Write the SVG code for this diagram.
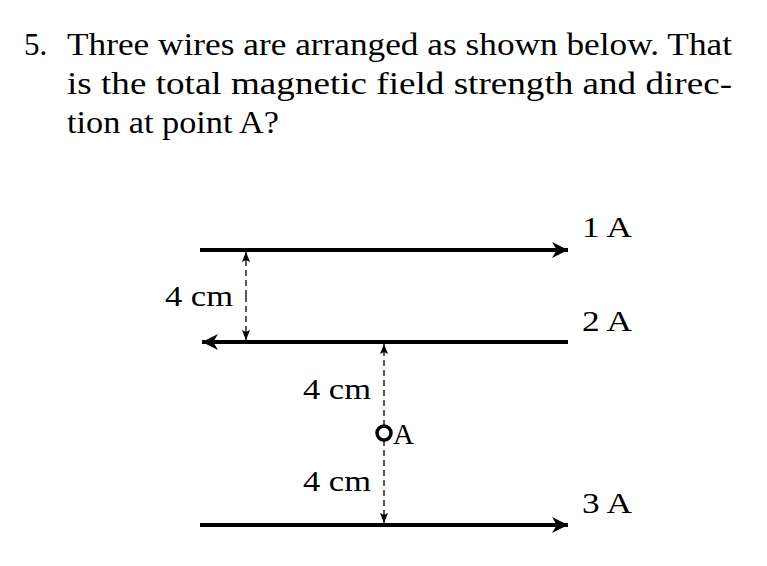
<svg xmlns="http://www.w3.org/2000/svg" width="767" height="566" viewBox="0 0 767 566">
<style>
text{font-family:"Liberation Serif","DejaVu Serif",serif;fill:#000}
.t{font-size:31px}
.l{font-size:29px}
.w{stroke:#000;stroke-width:4;fill:none}
.d{stroke:#000;stroke-width:1.3;stroke-dasharray:6,4;fill:none}
</style>
<defs>
<marker id="big" viewBox="0 0 10 10" refX="10" refY="5" markerWidth="6" markerHeight="4" markerUnits="strokeWidth" orient="auto"><path d="M0,0 L10,5 L0,10 L3,5 Z" fill="#000"/></marker>
<marker id="sm" viewBox="0 0 10 10" refX="10" refY="5" markerWidth="10" markerHeight="8" orient="auto" markerUnits="userSpaceOnUse" preserveAspectRatio="none"><path d="M0,0 L10,5 L0,10 L2,5 Z" fill="#000"/></marker>
</defs>
<g id="title">
<text class="t" x="24" y="55">5.</text>
<text class="t" x="67" y="55" textLength="665" lengthAdjust="spacingAndGlyphs">Three wires are arranged as shown below. That</text>
<text class="t" x="67" y="94" textLength="665" lengthAdjust="spacingAndGlyphs">is the total magnetic field strength and direc-</text>
<text class="t" x="67" y="133" textLength="212" lengthAdjust="spacingAndGlyphs">tion at point A?</text>
</g>
<g id="connectors">
<line class="w" x1="200" y1="250" x2="568" y2="250" marker-end="url(#big)"/>
<line class="w" x1="568" y1="342" x2="202" y2="342" marker-end="url(#big)"/>
<line class="w" x1="200" y1="525" x2="568" y2="525" marker-end="url(#big)"/>
<line class="d" x1="246" y1="296" x2="246" y2="252" marker-end="url(#sm)"/>
<line class="d" x1="246" y1="296" x2="246" y2="340" marker-end="url(#sm)"/>
<line class="d" x1="384" y1="426" x2="384" y2="344" marker-end="url(#sm)"/>
<line class="d" x1="384" y1="440" x2="384" y2="523" marker-end="url(#sm)"/>
</g>
<g id="point-A">
<circle cx="384" cy="433" r="7" fill="#fff" stroke="#000" stroke-width="3.5"/>
<text class="l" x="393" y="444">A</text>
</g>
<g id="labels">
<text class="l" x="165" y="306" textLength="68" lengthAdjust="spacingAndGlyphs">4 cm</text>
<text class="l" x="303" y="399" textLength="68" lengthAdjust="spacingAndGlyphs">4 cm</text>
<text class="l" x="303" y="491" textLength="68" lengthAdjust="spacingAndGlyphs">4 cm</text>
<text class="l" x="582" y="237" textLength="50" lengthAdjust="spacingAndGlyphs">1 A</text>
<text class="l" x="582" y="331" textLength="50" lengthAdjust="spacingAndGlyphs">2 A</text>
<text class="l" x="582" y="513" textLength="50" lengthAdjust="spacingAndGlyphs">3 A</text>
</g>
</svg>
